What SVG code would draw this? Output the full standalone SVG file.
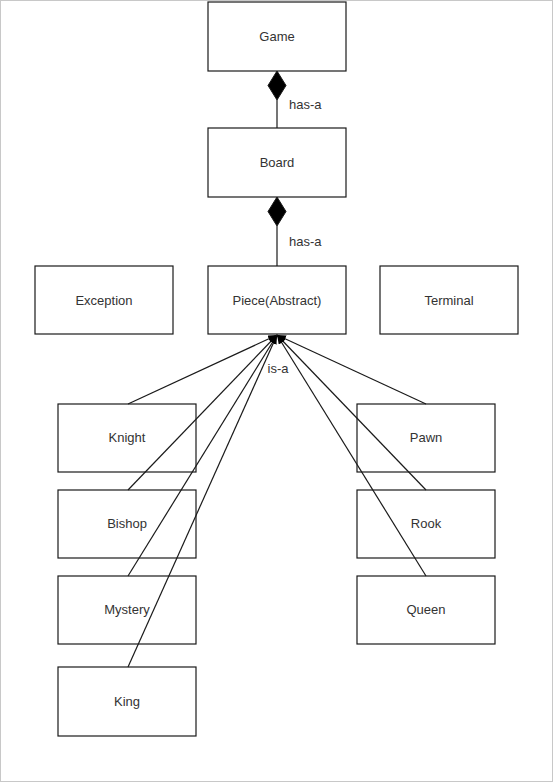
<svg xmlns="http://www.w3.org/2000/svg" width="553" height="782" viewBox="0 0 553 782">
<style>
.box{fill:#fff;stroke:#1a1a1a;stroke-width:1.2}
.lbl{font-family:"Liberation Sans",Arial,sans-serif;font-size:13px;fill:#333;text-anchor:middle}
.elbl{font-family:"Liberation Sans",Arial,sans-serif;font-size:13px;fill:#333}
.edge{stroke:#1a1a1a;stroke-width:1.2;fill:none}
.dia{fill:#000;stroke:#1a1a1a;stroke-width:1}
</style>
<defs>
<marker id="tri" markerUnits="userSpaceOnUse" markerWidth="10" markerHeight="8" refX="9" refY="3.5" orient="auto-start-reverse">
<path d="M0,0 L9,3.5 L0,7 z" fill="#000"/>
</marker>
</defs>
<rect x="0.5" y="0.5" width="552" height="781" fill="#fff" stroke="#c8c8c8"/>
<g id="game"><rect class="box" x="208" y="2" width="138" height="69"/><text class="lbl" x="277" y="41">Game</text></g>
<g id="board"><rect class="box" x="208" y="128" width="138" height="69"/><text class="lbl" x="277" y="167">Board</text></g>
<g id="piece"><rect class="box" x="208" y="266" width="138" height="68"/><text class="lbl" x="277" y="305">Piece(Abstract)</text></g>
<g id="exception"><rect class="box" x="35" y="266" width="138" height="68"/><text class="lbl" x="104" y="305">Exception</text></g>
<g id="terminal"><rect class="box" x="380" y="266" width="138" height="68"/><text class="lbl" x="449" y="305">Terminal</text></g>
<g id="knight"><rect class="box" x="58" y="404" width="138" height="68"/><text class="lbl" x="127" y="442">Knight</text></g>
<g id="bishop"><rect class="box" x="58" y="490" width="138" height="68"/><text class="lbl" x="127" y="528">Bishop</text></g>
<g id="mystery"><rect class="box" x="58" y="576" width="138" height="68"/><text class="lbl" x="127" y="614">Mystery</text></g>
<g id="king"><rect class="box" x="58" y="667" width="138" height="69"/><text class="lbl" x="127" y="706">King</text></g>
<g id="pawn"><rect class="box" x="357" y="404" width="138" height="68"/><text class="lbl" x="426" y="442">Pawn</text></g>
<g id="rook"><rect class="box" x="357" y="490" width="138" height="68"/><text class="lbl" x="426" y="528">Rook</text></g>
<g id="queen"><rect class="box" x="357" y="576" width="138" height="68"/><text class="lbl" x="426" y="614">Queen</text></g>
<g id="connectors">
<path class="edge" d="M277,100 L277,128"/>
<polygon class="dia" points="277,71 286,85.5 277,100 268,85.5"/>
<text class="elbl" x="289" y="109">has-a</text>
<path class="edge" d="M277,226 L277,266"/>
<polygon class="dia" points="277,197 286,211.5 277,226 268,211.5"/>
<text class="elbl" x="289" y="246">has-a</text>
<line class="edge" x1="277" y1="335" x2="128" y2="404" marker-start="url(#tri)"/>
<line class="edge" x1="277" y1="335" x2="128" y2="490" marker-start="url(#tri)"/>
<line class="edge" x1="277" y1="335" x2="128" y2="576" marker-start="url(#tri)"/>
<line class="edge" x1="277" y1="335" x2="128" y2="667" marker-start="url(#tri)"/>
<line class="edge" x1="277" y1="335" x2="426" y2="404" marker-start="url(#tri)"/>
<line class="edge" x1="277" y1="335" x2="426" y2="490" marker-start="url(#tri)"/>
<line class="edge" x1="277" y1="335" x2="426" y2="576" marker-start="url(#tri)"/>
<text class="lbl" x="278" y="373">is-a</text>
</g>
</svg>
